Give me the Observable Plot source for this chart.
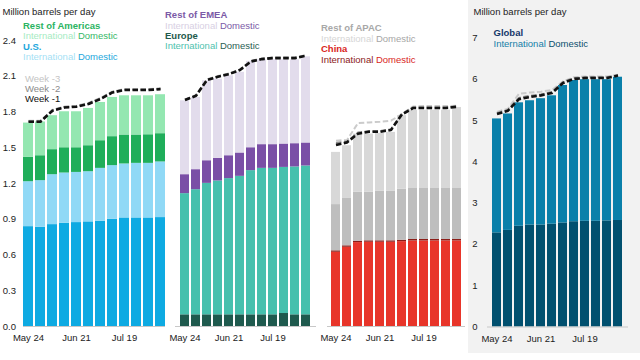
<!DOCTYPE html>
<html><head><meta charset="utf-8">
<script src="https://cdn.jsdelivr.net/npm/d3@7"></script>
<script src="https://cdn.jsdelivr.net/npm/@observablehq/plot@0.6"></script>
<style>
body{margin:0;background:#fff;font-family:Arial,"Liberation Sans",sans-serif;}
#wrap{position:relative;width:640px;height:360px;overflow:hidden;background:#fff;}
#wrap svg{position:absolute;top:0;}
#gbg{position:absolute;left:468px;top:0;width:172px;height:353px;background:#f2f2f2;}
</style></head><body><div id="wrap"><div id="gbg"></div></div>
<script>
const weeks = ["May 24","May 31","Jun 07","Jun 14","Jun 21","Jun 28","Jul 05","Jul 12","Jul 19","Jul 26","Aug 02","Aug 09"];
const tickWeeks = ["May 24","Jun 21","Jul 19"];
const leftTicks = [0,0.3,0.6,0.9,1.2,1.5,1.8,2.1,2.4];
const globalTicks = [0,1,2,3,4,5,6,7];

// Americas
const usDomestic = [0.838,0.832,0.855,0.866,0.872,0.878,0.883,0.899,0.911,0.911,0.911,0.914];
const usInternational = [0.377,0.392,0.419,0.422,0.421,0.421,0.444,0.451,0.453,0.458,0.458,0.467];
const roaDomestic = [0.204,0.209,0.210,0.212,0.207,0.218,0.232,0.243,0.243,0.238,0.240,0.237];
const roaInternational = [0.288,0.283,0.285,0.302,0.302,0.313,0.321,0.329,0.329,0.329,0.327,0.327];
const amWeek1 = [1.718,1.718,1.811,1.838,1.844,1.867,1.909,1.964,1.984,1.984,1.984,1.992];
const amWeek2 = [1.722,1.722,1.815,1.842,1.848,1.872,1.914,1.968,1.988,1.988,1.988,1.996];
const amWeek3 = [1.726,1.726,1.819,1.846,1.852,1.876,1.918,1.972,1.992,1.992,1.992,2.000];

// EMEA
const eurDomestic = [0.098,0.098,0.098,0.098,0.098,0.098,0.098,0.098,0.098,0.109,0.098,0.098];
const eurInternational = [1.017,1.050,1.103,1.123,1.143,1.162,1.210,1.229,1.229,1.226,1.241,1.249];
const remeaDomestic = [0.159,0.168,0.190,0.190,0.192,0.196,0.192,0.199,0.199,0.196,0.195,0.193];
const remeaInternational = [0.620,0.606,0.671,0.665,0.671,0.677,0.725,0.712,0.712,0.707,0.704,0.723];
const emeaWeek1 = [1.900,1.936,2.068,2.096,2.118,2.152,2.224,2.244,2.252,2.252,2.252,2.272];
const emeaWeek2 = [1.903,1.939,2.071,2.099,2.121,2.155,2.227,2.247,2.255,2.255,2.255,2.275];
const emeaWeek3 = [1.906,1.942,2.074,2.102,2.124,2.158,2.230,2.250,2.258,2.258,2.258,2.278];

// APAC
const chinaDomestic = [0.623,0.665,0.704,0.707,0.707,0.707,0.712,0.718,0.718,0.718,0.718,0.718];
const chinaInternational = [0.012,0.012,0.012,0.012,0.012,0.012,0.012,0.012,0.012,0.012,0.012,0.012];
const rapacDomestic = [0.388,0.402,0.410,0.407,0.415,0.418,0.427,0.433,0.433,0.433,0.433,0.433];
const rapacInternational = [0.438,0.438,0.489,0.489,0.486,0.492,0.618,0.653,0.653,0.653,0.653,0.675];
const apacWeek1 = [1.523,1.545,1.618,1.634,1.634,1.649,1.780,1.833,1.833,1.833,1.833,1.844];
const apacWeek2 = [1.540,1.552,1.628,1.640,1.640,1.655,1.785,1.838,1.838,1.838,1.838,1.846];
const apacWeek3 = [1.559,1.565,1.707,1.712,1.718,1.727,1.783,1.846,1.850,1.850,1.850,1.852];

// Global
const globalDomestic = [2.28,2.34,2.44,2.47,2.47,2.49,2.52,2.55,2.56,2.56,2.57,2.58];
const globalInternational = [2.76,2.82,2.99,3.01,3.06,3.11,3.33,3.42,3.43,3.43,3.42,3.47];
const globalWeek1 = [5.16,5.24,5.52,5.57,5.61,5.67,5.91,6.01,6.03,6.03,6.03,6.09];
const globalWeek2 = [5.18,5.26,5.55,5.60,5.63,5.69,5.93,6.03,6.05,6.05,6.05,6.10];
const globalWeek3 = [5.21,5.29,5.65,5.68,5.70,5.74,5.95,6.05,6.07,6.07,6.07,6.11];

const FONT = 'Arial, "Liberation Sans", sans-serif';
const wrap = document.getElementById("wrap");

function panel({left, width, height, ml, mr, mt, mb, domain, ticks, fmt, padLabel, series, lines}) {
  const data = series.flatMap(s => weeks.map((w, i) => ({week: w, value: s.values[i], color: s.color, key: s.name})));
  const marks = [
    Plot.barY(data, {x: "week", y: "value", fill: "color", z: "key"}),
    Plot.ruleY([0], {stroke: "#c8c8c8", strokeWidth: 1}),
    Plot.axisX(tickWeeks, {tickSize: 0, tickPadding: 8, label: null, fill: "#222"})
  ];
  if (ticks) marks.push(Plot.axisY(ticks, {tickSize: 0, tickPadding: padLabel, tickFormat: fmt, label: null, fill: "#222"}));
  const styles = [{stroke: "#cbcbcb", w: 2}, {stroke: "#8c8c8c", w: 2}, {stroke: "#111", w: 2.6}];
  lines.forEach((vals, j) => {
    marks.push(Plot.lineY(weeks.map((w, i) => ({week: w, v: vals[i]})), {
      x: "week", y: "v", stroke: styles[j].stroke, strokeWidth: styles[j].w,
      strokeDasharray: "5.5,2.5", strokeLinecap: "butt", strokeLinejoin: "miter"
    }));
  });
  const svg = Plot.plot({
    width, height, marginLeft: ml, marginRight: mr, marginTop: mt, marginBottom: mb,
    style: {background: "transparent", fontFamily: FONT, fontSize: "9.5px", overflow: "visible"},
    x: {type: "band", domain: weeks, paddingInner: 0.17, paddingOuter: 0, axis: null},
    y: {domain, axis: null},
    color: {type: "identity"},
    marks
  });
  svg.style.left = left + "px";
  svg.style.position = "absolute";
  wrap.appendChild(svg);
}

panel({left: 0, width: 170, height: 360, ml: 23, mr: 5, mt: 40, mb: 34, domain: [0, 2.4],
  ticks: leftTicks, fmt: d => d.toFixed(1), padLabel: 7.5,
  series: [
    {name: "usD", values: usDomestic, color: "#0eaae2"},
    {name: "usI", values: usInternational, color: "#90d9f6"},
    {name: "roaD", values: roaDomestic, color: "#1fae5a"},
    {name: "roaI", values: roaInternational, color: "#94e7b1"}
  ], lines: [amWeek3, amWeek2, amWeek1]});

panel({left: 170, width: 150, height: 360, ml: 5, mr: 4, mt: 40, mb: 34, domain: [0, 2.4],
  series: [
    {name: "eD", values: eurDomestic, color: "#1f5a4e"},
    {name: "eI", values: eurInternational, color: "#46c0ad"},
    {name: "rD", values: remeaDomestic, color: "#7a4fa6"},
    {name: "rI", values: remeaInternational, color: "#e2dcec"}
  ], lines: [emeaWeek3, emeaWeek2, emeaWeek1]});

panel({left: 320, width: 150, height: 360, ml: 7, mr: 5, mt: 40, mb: 34, domain: [0, 2.4],
  series: [
    {name: "cD", values: chinaDomestic, color: "#e8352a"},
    {name: "cI", values: chinaInternational, color: "#8c1d18"},
    {name: "aD", values: rapacDomestic, color: "#bebebe"},
    {name: "aI", values: rapacInternational, color: "#d8d8d8"}
  ], lines: [apacWeek3, apacWeek2, apacWeek1]});

panel({left: 468, width: 172, height: 360, ml: 19, mr: 12, mt: 37.5, mb: 33.5, domain: [0, 7],
  ticks: globalTicks, fmt: d => String(d), padLabel: 10,
  series: [
    {name: "gD", values: globalDomestic, color: "#01506f"},
    {name: "gI", values: globalInternational, color: "#0a80aa"}
  ], lines: [globalWeek3, globalWeek2, globalWeek1]});

// Overlay texts
const ov = d3.create("svg").attr("width", 640).attr("height", 360)
  .style("position", "absolute").style("left", "0px").style("top", "0px")
  .style("font-family", FONT).style("font-size", "9.5px").style("pointer-events", "none");

function line(x, y, parts) {
  const t = ov.append("text").attr("x", x).attr("y", y);
  parts.forEach(([txt, col, bold]) => {
    t.append("tspan").attr("fill", col).attr("font-weight", bold ? "bold" : "normal").text(txt);
  });
}
line(2.5, 15, [["Million barrels per day", "#222"]]);
line(473.5, 15, [["Million barrels per day", "#222"]]);

line(23, 28.5, [["Rest of Americas", "#2bb462", true]]);
line(23, 39, [["International ", "#a6ebc2"], ["Domestic", "#36b867"]]);
line(23, 49.7, [["U.S.", "#1ea7dc", true]]);
line(23, 60.3, [["International ", "#a6dff5"], ["Domestic", "#1ea7dc"]]);

line(25, 81.7, [["Week -3", "#c4c4c4"]]);
line(25, 91.7, [["Week -2", "#8a8a8a"]]);
line(25, 101.7, [["Week -1", "#111"]]);

line(165, 18.3, [["Rest of EMEA", "#7b5aa6", true]]);
line(165, 28.5, [["International ", "#d8d0e3"], ["Domestic", "#7b5aa6"]]);
line(165, 38.7, [["Europe", "#1e5a4c", true]]);
line(165, 49, [["International ", "#4fc2ae"], ["Domestic", "#2a5e52"]]);

line(321, 30.7, [["Rest of APAC", "#a8a8a8", true]]);
line(321, 41.5, [["International ", "#d6d6d6"], ["Domestic", "#a6a6a6"]]);
line(321, 52, [["China", "#d9261c", true]]);
line(321, 62.7, [["International ", "#8b1a1a"], ["Domestic", "#d9261c"]]);

line(493.5, 36, [["Global", "#17386b", true]]);
line(493.5, 46.7, [["International ", "#1580a8"], ["Domestic", "#0a4f6e"]]);

wrap.appendChild(ov.node());
</script>
</body></html>
